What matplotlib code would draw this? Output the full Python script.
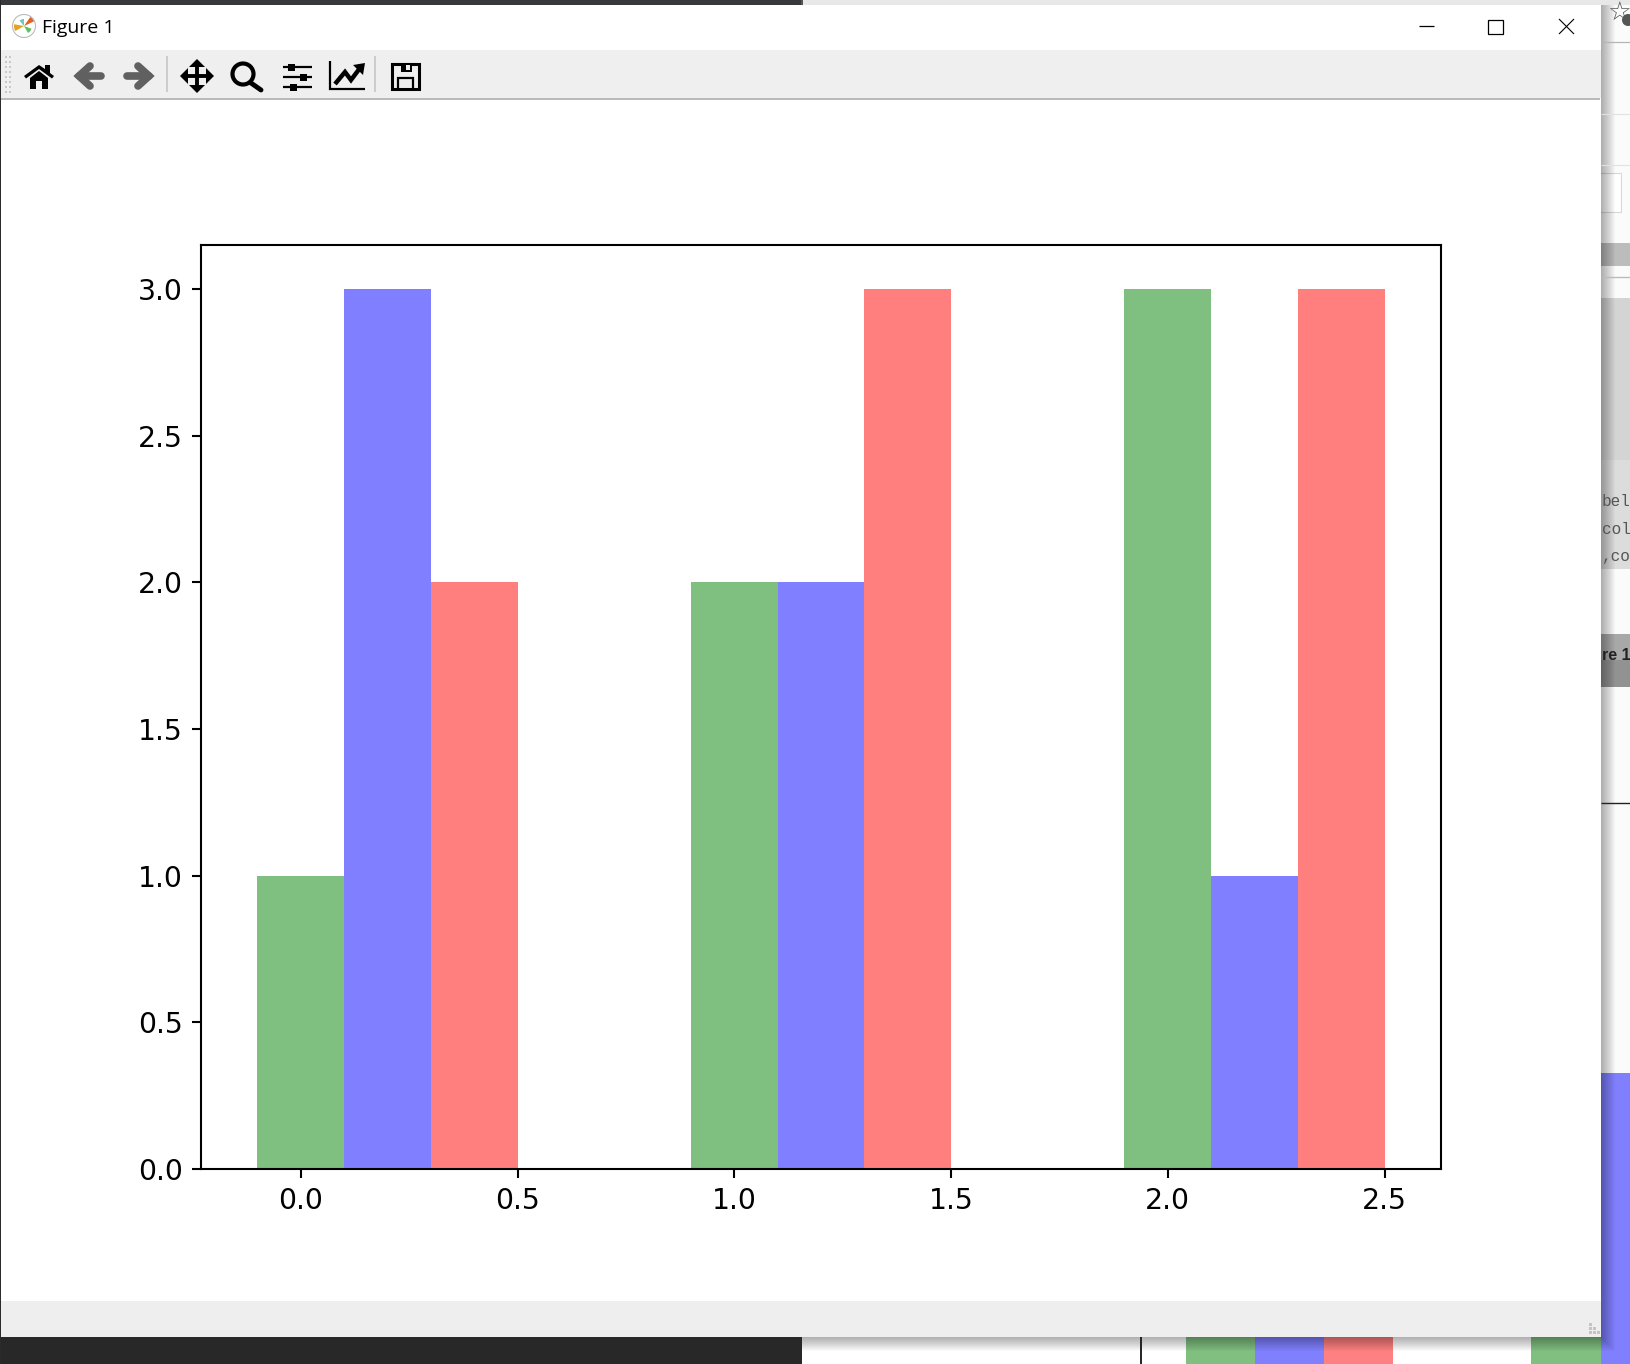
import numpy as np
import matplotlib
matplotlib.use('Agg')
import matplotlib.pyplot as plt
from matplotlib.patches import Rectangle, Circle, Polygon, Wedge

x = [0, 1, 2]
green_vals = [1, 2, 3]
blue_vals = [3, 2, 1]
red_vals = [2, 3, 3]
x_ticks = [0.0, 0.5, 1.0, 1.5, 2.0, 2.5]
y_ticks = [0.0, 0.5, 1.0, 1.5, 2.0, 2.5, 3.0]
bar_width = 0.2

W, H = 1630, 1364
fig = plt.figure(figsize=(W / 100, H / 100), dpi=100, facecolor='white')

# window chrome goes in an overlay axes measured in screen pixels
bg = fig.add_axes([0, 0, 1, 1], zorder=0)
bg.set_xlim(0, W)
bg.set_ylim(H, 0)
bg.axis('off')


def box(x0, y0, x1, y1, color, **kw):
    bg.add_patch(Rectangle((x0, y0), x1 - x0, y1 - y0, facecolor=color, edgecolor='none', **kw))


def line(xs, ys, color='black', lw=1.0, cap='butt'):
    bg.plot(xs, ys, color=color, lw=lw, solid_capstyle=cap, solid_joinstyle='miter')


# stuff behind the window
box(0, 0, 802, 5, '#373a3d')
box(0, 1337, 802, H, '#282828')
box(0, 0, 1, H, '#2b2b2b')
box(802, 0, W, 5, '#e8e8e8')
box(801, 0, 803, 5, '#555555')
box(1601, 5, W, H, '#fbfbfb')
line([1601, W], [42, 42], '#b5b5b5', 0.9)
line([1601, W], [114, 114], '#e2e2e2', 0.8)
line([1601, W], [165, 165], '#e2e2e2', 0.8)
bg.add_patch(Rectangle((1590, 173), 31, 39, facecolor='white', edgecolor='#d8d8d8', lw=0.8))
box(1601, 243, W, 266, '#bcbcbc')
line([1601, W], [277, 277], '#bbbbbb', 1.0)
box(1601, 298, W, 569, '#dcdcdc')
box(1601, 298, W, 460, '#d4d4d4')
box(1601, 634, W, 660, '#a8a8a8')
box(1601, 660, W, 687, '#929292')
line([1601, W], [803, 803], '#222222', 1.0)
bg.text(1602, 502, 'bel', family='Liberation Mono', fontsize=11.5, color='#555555', va='center')
bg.text(1602, 529, 'col', family='Liberation Mono', fontsize=11.5, color='#555555', va='center')
bg.text(1602, 557, ',co', family='Liberation Mono', fontsize=11.5, color='#555555', va='center')
bg.text(1602, 656, 're 1', family='Liberation Sans', fontsize=11.5, fontweight='bold', color='#222222', va='center')
bg.text(1619, 14, '☆', fontsize=19, color='#555555', ha='center', va='center')
bg.add_patch(Circle((1628, 20), 6, facecolor='#555555', edgecolor='none'))
box(1601, 1073, W, H, '#8080ff')

# chart peeking out under the window
line([1141, 1141], [1337, H], '#222222', 1.4)
box(1186, 1337, 1255, H, '#80bf80')
box(1255, 1337, 1324, H, '#8080ff')
box(1324, 1337, 1393, H, '#ff8080')
box(1531, 1337, 1601, H, '#80bf80')

# window drop shadow on what's behind
for i in range(14):
    a = 0.022
    box(1601, 5, 1601 + i + 1, 1337 + i + 1, 'black', alpha=a)
    box(802, 1337, 1601, 1337 + i + 1, 'black', alpha=a)

# window itself
box(1, 5, 1601, 1337, 'white')
box(1, 50, 1601, 98, '#efefef')
box(1, 98, 1600, 100, '#b9b9b9')
box(1, 1301, 1601, 1337, '#eeeeee')
for i, j in [(0, 0), (1, 0), (2, 0), (1, 1), (2, 1), (2, 2)]:
    box(1593 - i * 4 + 4, 1331 - j * 4, 1596 - i * 4 + 4, 1334 - j * 4, '#c4c4c4')

# title bar
bg.add_patch(Circle((24, 26), 11.5, facecolor='white', edgecolor='#bbbbbb', lw=0.8))
bg.add_patch(Wedge((24, 26), 10, 150, 190, facecolor='#e8a020', edgecolor='none'))
bg.add_patch(Wedge((24, 26), 11, 305, 335, facecolor='#e86020', edgecolor='none'))
bg.add_patch(Wedge((24, 26), 8, 20, 60, facecolor='#60c060', edgecolor='none'))
bg.add_patch(Wedge((24, 26), 7, 230, 270, facecolor='#70c8c0', edgecolor='none'))
bg.text(41.5, 28, 'Figure 1', family='Open Sans', fontsize=14.0, color='black', va='center')
line([1419, 1434], [26, 26], 'black', 0.9)
bg.add_patch(Rectangle((1488, 20), 15, 13.5, facecolor='none', edgecolor='black', lw=0.9))
line([1559, 1574], [19, 34], 'black', 0.8)
line([1559, 1574], [34, 19], 'black', 0.8)

# toolbar grip and separators
for gy in range(56, 96, 5):
    box(5, gy, 6.5, gy + 1.5, '#c8c8c8')
    box(9, gy, 10.5, gy + 1.5, '#c8c8c8')
box(166, 56, 168, 92, '#cccccc')
box(374, 56, 376, 92, '#cccccc')

# home
bg.add_patch(Polygon([(24, 76), (39, 65), (45, 69), (45, 65), (50, 65), (50, 73), (54, 76), (52, 78.5),
                      (39, 69), (26, 78.5)], facecolor='black', edgecolor='none'))
bg.add_patch(Polygon([(30, 78), (39, 71), (48, 78), (48, 89), (42, 89), (42, 81), (36, 81), (36, 89), (30, 89)],
                     facecolor='black', edgecolor='none'))

# back / forward
line([79, 101], [76, 76], '#606060', 5.5, 'round')
line([90, 79, 90], [66, 76, 86], '#606060', 5.5, 'round')
line([127, 149], [76, 76], '#606060', 5.5, 'round')
line([138, 149, 138], [66, 76, 86], '#606060', 5.5, 'round')

# move
line([186, 208], [76, 76], 'black', 2.8)
line([197, 197], [65, 87], 'black', 2.8)
for tri in ([(197, 59), (189, 67), (205, 67)], [(197, 93), (189, 85), (205, 85)],
            [(180, 76), (188, 68), (188, 84)], [(214, 76), (206, 68), (206, 84)]):
    bg.add_patch(Polygon(tri, facecolor='black', edgecolor='none'))

# zoom
bg.add_patch(Circle((243, 74), 10.5, facecolor='none', edgecolor='black', lw=3.0))
line([251, 261], [83, 90], 'black', 3.5, 'round')

# sliders
for yy, kx in [(67, 291), (77, 303), (87, 293)]:
    line([283, 312], [yy, yy], 'black', 1.6)
    box(kx - 3.5, yy - 3.5, kx + 3.5, yy + 3.5, 'black')

# subplots icon
line([330, 330, 365], [61, 89, 89], 'black', 1.6)
line([335, 345, 351, 360], [84, 72, 80, 68], 'black', 3.2)
bg.add_patch(Polygon([(365, 63), (353, 65), (363, 75)], facecolor='black', edgecolor='none'))

# save
bg.add_patch(Rectangle((391.5, 63.5), 27, 25.5, facecolor='none', edgecolor='black', lw=2.2))
box(401, 63, 412, 72, 'black')
box(406, 65, 410, 70, '#efefef')
line([398, 398, 413, 413], [88, 78, 78, 88], 'black', 1.6)

# the chart
ax = fig.add_axes([201 / W, 1 - 1169 / H, 1240 / W, 924 / H], zorder=1)
ax.bar(np.array(x), green_vals, width=bar_width, color='green', alpha=0.5)
ax.bar(np.array(x) + bar_width, blue_vals, width=bar_width, color='blue', alpha=0.5)
ax.bar(np.array(x) + 2 * bar_width, red_vals, width=bar_width, color='red', alpha=0.5)
ax.set_xticks(x_ticks)
ax.set_yticks(y_ticks)
ax.tick_params(labelsize=20.3, length=6.5, width=1.5, pad=6.5)
for s in ax.spines.values():
    s.set_linewidth(1.5)

plt.savefig('out.png', dpi=100)
